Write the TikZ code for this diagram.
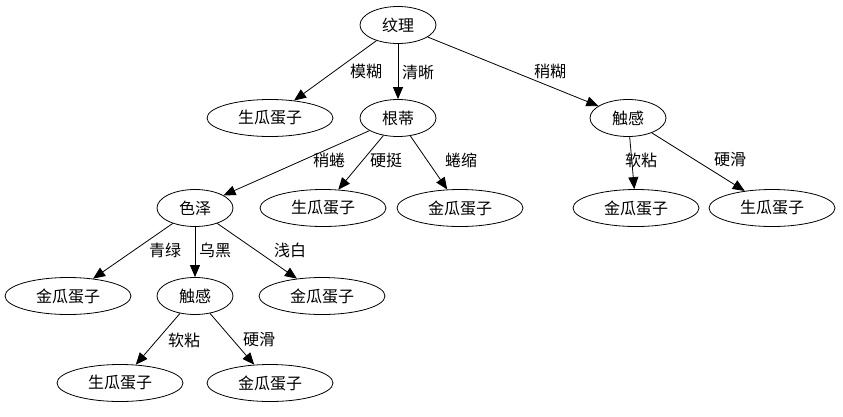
\documentclass[tikz,border=0pt]{standalone}
\usepackage{fontspec}
\newfontfamily\cjk{Noto Sans CJK SC}
\usetikzlibrary{shapes.geometric,arrows.meta}
\begin{document}
\begin{tikzpicture}[x=1pt,y=-1pt,
  n/.style={ellipse,draw,thick,minimum height=37pt,minimum width=76pt,inner sep=0pt,font=\cjk\fontsize{16}{18}\selectfont},
  w/.style={n,minimum width=126pt},
  lab/.style={font=\cjk\fontsize{16}{18}\selectfont,inner sep=0pt},
  e/.style={draw,thick,-{Triangle[length=12pt,width=10pt]}}]
\useasboundingbox (0,0) rectangle (843,416);
\node[n] (a) at (398,25) {纹理};
\node[w] (b) at (270,118) {生瓜蛋子};
\node[n] (c) at (398,118) {根蒂};
\node[n] (d) at (628,118) {触感};
\node[n] (e) at (195,208) {色泽};
\node[w] (f) at (323,208) {生瓜蛋子};
\node[w] (g) at (460,208) {金瓜蛋子};
\node[w] (h) at (636,208) {金瓜蛋子};
\node[w] (i) at (772,208) {生瓜蛋子};
\node[w] (j) at (68,296) {金瓜蛋子};
\node[n] (k) at (195,296) {触感};
\node[w] (l) at (322,296) {金瓜蛋子};
\node[w] (m) at (120,383) {生瓜蛋子};
\node[w] (o) at (270,383) {金瓜蛋子};
\path[e] (a) -- (b); \path[e] (a) -- (c); \path[e] (a) -- (d);
\path[e] (c) -- (e); \path[e] (c) -- (f); \path[e] (c) -- (g);
\path[e] (d) -- (h); \path[e] (d) -- (i);
\path[e] (e) -- (j); \path[e] (e) -- (k); \path[e] (e) -- (l);
\path[e] (k) -- (m); \path[e] (k) -- (o);
\node[lab] (l1) at (366,72) {模糊};
\node[lab] (l2) at (418,72) {清晰};
\node[lab] (l3) at (550,72) {稍糊};
\node[lab] (l4) at (329,160) {稍蜷};
\node[lab] (l5) at (386,160) {硬挺};
\node[lab] (l6) at (461,160) {蜷缩};
\node[lab] (l7) at (641,160) {软粘};
\node[lab] (l8) at (730,160) {硬滑};
\node[lab] (l9) at (165,250) {青绿};
\node[lab] (l10) at (215,250) {乌黑};
\node[lab] (l11) at (290,250) {浅白};
\node[lab] (l12) at (184,340) {软粘};
\node[lab] (l13) at (259,340) {硬滑};
\end{tikzpicture}
\end{document}
